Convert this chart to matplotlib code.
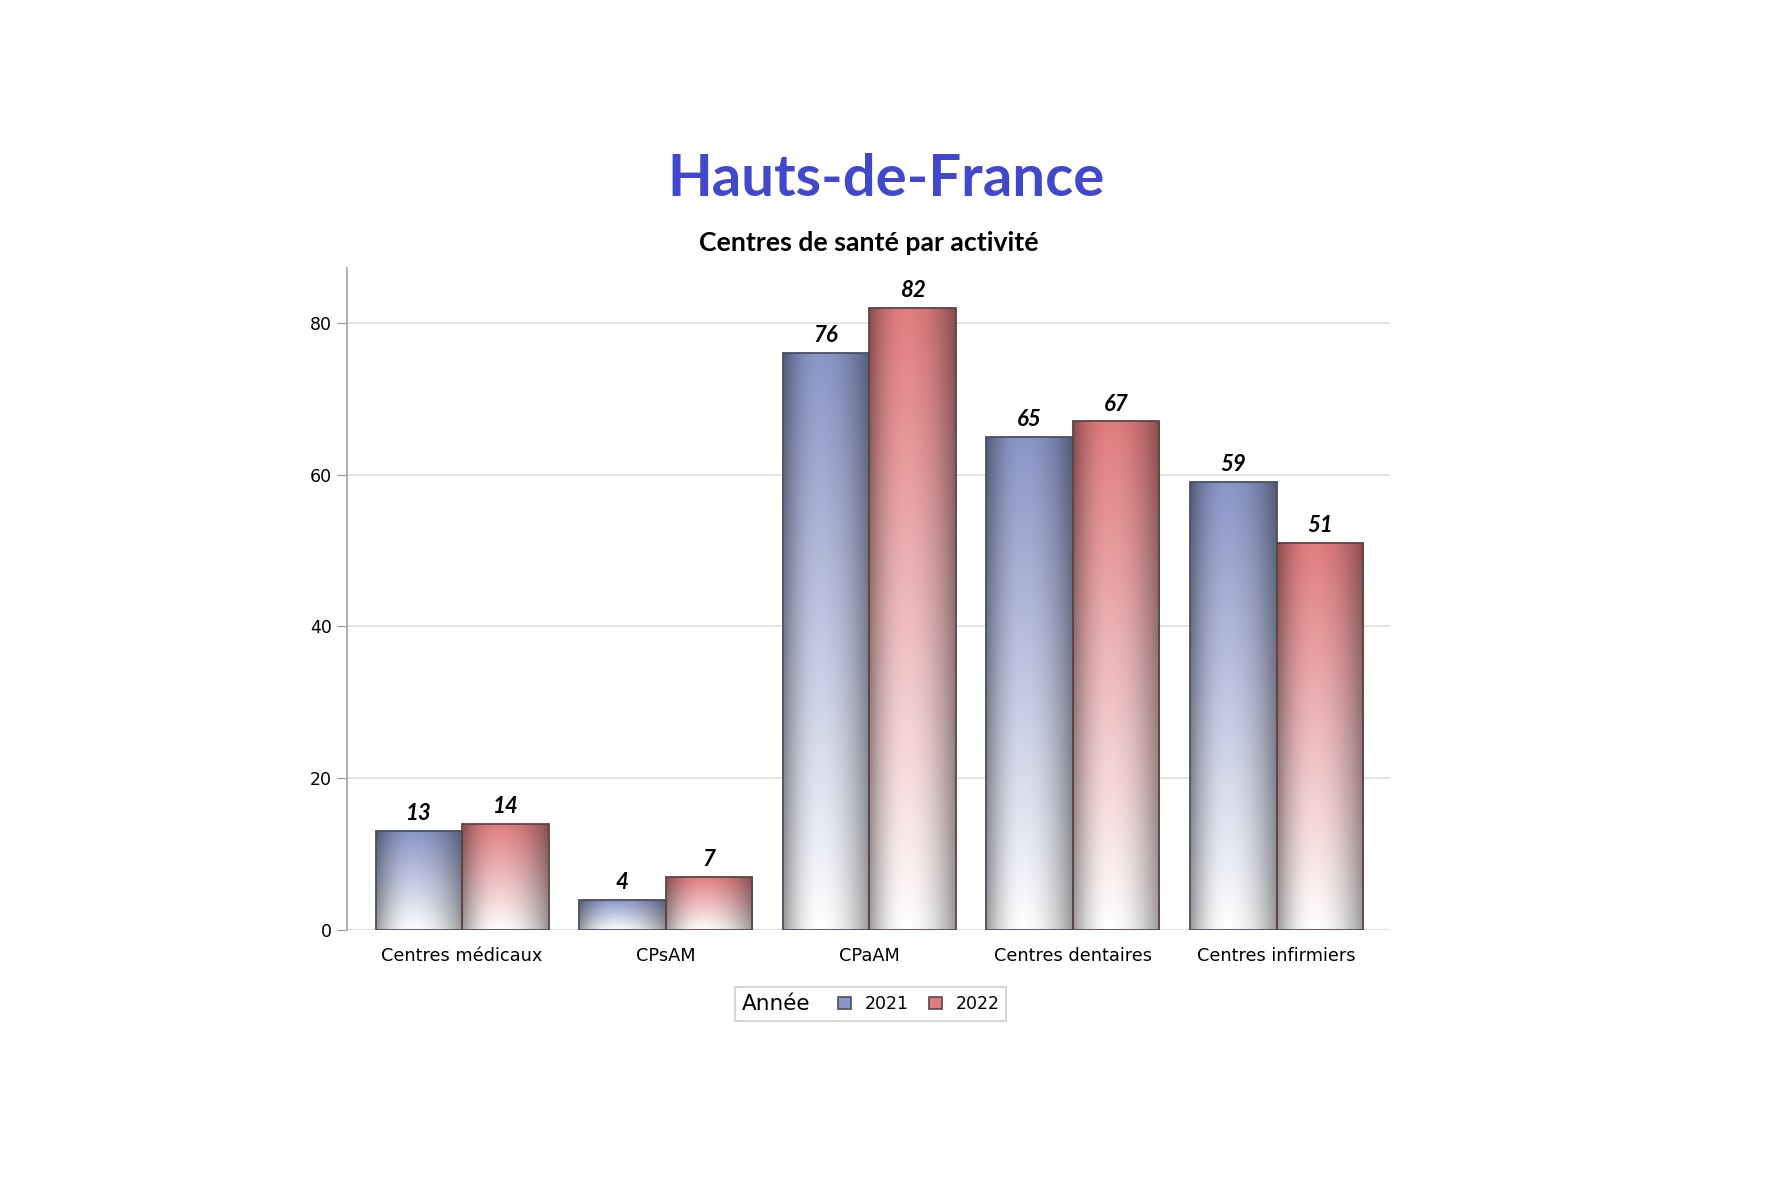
import numpy as np
import matplotlib
matplotlib.use("Agg")
import matplotlib.pyplot as plt
from matplotlib.patches import Patch
from matplotlib.offsetbox import HPacker

categories = ["Centres médicaux", "CPsAM", "CPaAM", "Centres dentaires", "Centres infirmiers"]
values_2021 = [13, 4, 76, 65, 59]
values_2022 = [14, 7, 82, 67, 51]
series_labels = ["2021", "2022"]
title = "Hauts-de-France"
subtitle = "Centres de santé par activité"
legend_title = "Année"
yticks = [0, 20, 40, 60, 80]

top_colors = [(0.54, 0.59, 0.78), (0.88, 0.49, 0.50)]
edge_colors = ["#4a4e66", "#5e4446"]

fig = plt.figure(figsize=(17.82, 11.84), dpi=100)
ax = fig.add_axes([0.195, 0.2145, 0.585, 0.559])

def gradient(top, nx=80, ny=120):
    u = np.linspace(0, 1, nx)
    c = 0.42
    d = np.where(u < c, (c - u) / c, (u - c) / (1 - c))
    shade = 1 - 0.40 * d ** 2
    t = np.linspace(0, 1, ny)[:, None]  # 0 bottom, 1 top
    top = np.array(top)
    col = 1 + (top[None, None, :] - 1) * (t[..., None] ** 0.95)
    img = col * shade[None, :, None]
    return np.clip(img[::-1], 0, 1)

x = np.arange(len(categories))
w = 0.425
for i, (vals, lab) in enumerate(zip([values_2021, values_2022], series_labels)):
    bars = ax.bar(x + (i - 0.5) * w, vals, width=w, facecolor="none",
                  edgecolor=edge_colors[i], linewidth=1.3, label=lab, zorder=3)
    g = gradient(top_colors[i])
    for b in bars:
        x0, y0 = b.get_x(), b.get_y()
        im = ax.imshow(g, extent=[x0, x0 + b.get_width(), y0, y0 + b.get_height()],
                       aspect="auto", interpolation="bilinear", zorder=2)
        im.set_clip_path(b)
    ax.bar_label(bars, padding=5, fontsize=16, fontweight="bold", fontstyle="italic",
                 color="black", family="Lato")

ax.set_xlim(-0.5627, 4.557)
ax.set_ylim(0, 87.2)
ax.set_xticks(x)
ax.set_xticklabels(categories, fontsize=12.8)
ax.set_yticks(yticks)
ax.tick_params(axis="y", labelsize=12.5, length=7, color="#999999", pad=4)
ax.tick_params(axis="x", length=0, pad=12)
ax.grid(axis="y", color="#e2e2e2", linewidth=1.3, zorder=0)
ax.set_axisbelow(True)
for s in ["top", "right", "bottom"]:
    ax.spines[s].set_visible(False)
ax.spines["left"].set_color("#aaaaaa")
ax.spines["left"].set_linewidth(1.3)

fig.text(0.4971, 0.848, title, ha="center", va="center", fontsize=41.9,
         fontweight="bold", color="#4248cc", family="Lato")
fig.text(0.4877, 0.795, subtitle, ha="center", va="center", fontsize=19.2,
         fontweight="bold", color="black", family="Lato")

handles = [Patch(facecolor=top_colors[i], edgecolor=edge_colors[i], linewidth=1.2)
           for i in range(2)]
leg = fig.legend(handles, series_labels, ncols=2, loc="center", bbox_to_anchor=(0.4885, 0.152),
                 fontsize=12.5, frameon=True, fancybox=False, edgecolor="#cccccc",
                 handlelength=0.75, handleheight=0.75, handletextpad=0.8,
                 columnspacing=1.15, borderpad=0.4,
                 title=legend_title, title_fontproperties={"size": 15.5})
leg.get_frame().set_linewidth(1.5)
# place the title inline, to the left of the entries
leg._legend_box.__class__ = HPacker
leg._legend_box.sep = 20

fig.savefig("out.png", dpi=100)
